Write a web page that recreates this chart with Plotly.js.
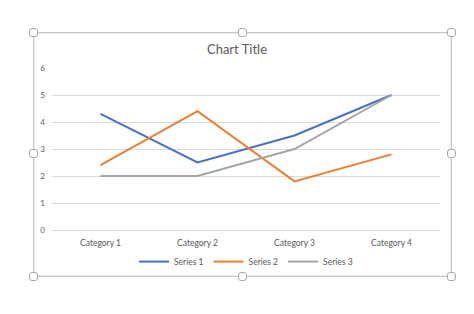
<!DOCTYPE html>
<html>
<head>
<meta charset="utf-8">
<script src="https://cdn.plot.ly/plotly-3.0.1.min.js"></script>
<style>
html,body{margin:0;padding:0;background:#fff;}
#wrap{position:relative;width:474px;height:314px;overflow:hidden;}
#chart{position:absolute;left:0;top:0;width:474px;height:314px;}
#frame{position:absolute;left:33px;top:32px;width:417px;height:243px;border:1px solid #c9c9c9;box-shadow:inset 0 0 0 1px #ececec;pointer-events:none;}
.h{position:absolute;width:7px;height:7px;border:1px solid #a8a8a8;background:#fff;border-radius:3px;pointer-events:none;}
</style>
</head>
<body>
<div id="wrap">
<div id="chart"></div>
<div id="frame"></div>
<div class="h" style="left:29px;top:28px"></div>
<div class="h" style="left:238px;top:28px"></div>
<div class="h" style="left:447px;top:28px"></div>
<div class="h" style="left:29px;top:149px"></div>
<div class="h" style="left:447px;top:149px"></div>
<div class="h" style="left:29px;top:272px"></div>
<div class="h" style="left:238px;top:272px"></div>
<div class="h" style="left:447px;top:272px"></div>
</div>
<script>
var categories = ["Category 1", "Category 2", "Category 3", "Category 4"];
var series1 = [4.3, 2.5, 3.5, 5];
var series2 = [2.4, 4.4, 1.8, 2.8];
var series3 = [2, 2, 3, 5];
var seriesNames = ["Series 1", "Series 2", "Series 3"];
var yTicks = [0, 1, 2, 3, 4, 5, 6];

var colors = ["#4472C4", "#ED7D31", "#A5A5A5"];
var allSeries = [series1, series2, series3];
var traces = allSeries.map(function(s, i){
  return {x: categories, y: s, type: "scatter", mode: "lines", name: seriesNames[i],
          line: {color: colors[i], width: 2}};
});
var font = {family: "Lato, 'Open Sans', sans-serif", color: "#595959"};
var layout = {
  width: 474, height: 314,
  margin: {l: 52, r: 34, t: 68, b: 84},
  paper_bgcolor: "#fff", plot_bgcolor: "#fff",
  font: font,
  title: {text: "Chart Title", font: {family: font.family, size: 13, color: "#595959"},
          x: 0.5, xanchor: "center", y: 1 - 49/314, yanchor: "middle", yref: "container"},
  xaxis: {type: "category", range: [-0.5, 3.5], showgrid: false, zeroline: false,
          showline: false, ticks: "", tickfont: {size: 8.5, color: "#595959"}, ticklabelstandoff: 6},
  yaxis: {range: [0, 6], tickvals: yTicks, showgrid: true, gridcolor: "#d9d9d9", gridwidth: 1,
          zeroline: true, zerolinecolor: "#d9d9d9", zerolinewidth: 1, showline: false, ticks: "",
          tickfont: {size: 8, color: "#595959"}, ticklabelstandoff: 6},
  showlegend: true,
  legend: {orientation: "h", x: 0.5, xanchor: "center", y: -0.195, yanchor: "middle",
           bgcolor: "rgba(0,0,0,0)",
           font: {size: 8.5, color: "#595959"}, itemwidth: 30, tracegroupgap: 0},
};
Plotly.newPlot("chart", traces, layout, {displayModeBar: false, staticPlot: true});
</script>
</body>
</html>
